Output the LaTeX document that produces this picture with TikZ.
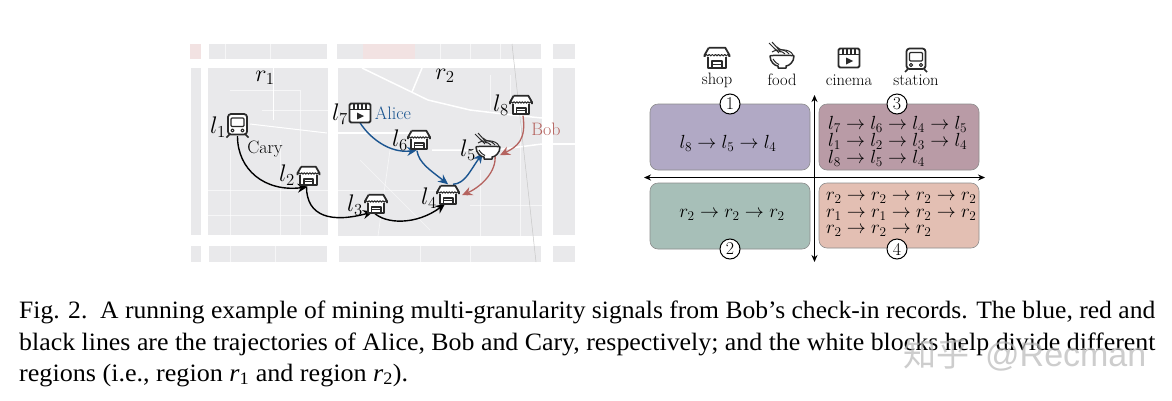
\RequirePackage{fix-cm}
\documentclass[tikz,border=0pt]{standalone}
\usepackage{fontspec}
\usepackage{graphicx}
\usetikzlibrary{arrows.meta,bending}
\newfontfamily\capfont{Liberation Serif}
\newfontfamily\cjkfont{Noto Sans CJK SC}
\newfontfamily\wmfont{Liberation Sans}
\newcommand{\fsz}[1]{\fontsize{#1}{#1}\selectfont}
\definecolor{mapblock}{HTML}{E9E9EB}
\definecolor{mappink}{HTML}{F2E2E2}
\definecolor{icondark}{HTML}{2A2A2A}
\definecolor{aliceblue2}{HTML}{1B5590}
\definecolor{bobred}{HTML}{B5635F}
\definecolor{boxA}{HTML}{B1A9C5}
\definecolor{boxB}{HTML}{A7BFB8}
\definecolor{boxC}{HTML}{B99BA6}
\definecolor{boxD}{HTML}{E3BFB3}
\tikzset{
  road/.style={draw=white,line width=1.5pt},
  lane/.style={draw=white,line width=.7pt,opacity=.6},
  iconbox/.style={inner sep=0pt,minimum width=#1,minimum height=#1,draw=none},
  iconbox/.default=21pt,
  lbl/.style={inner sep=0pt,font=\fsz{24}},
  nametext/.style={inner sep=0pt,font=\fsz{16.5}},
  mapname/.style={inner sep=0pt,font=\fsz{18}},
  trajk/.style={-{Stealth[length=10pt,width=9pt,bend]},line width=1.4pt,black},
  trajb/.style={-{Stealth[length=10pt,width=9pt,bend]},line width=1.4pt,aliceblue2},
  trajr/.style={-{Stealth[length=10pt,width=9pt,bend]},line width=1.3pt,bobred},
  card/.style={rounded corners=8pt,draw=black!45,line width=.6pt},
  seq/.style={inner sep=0pt,anchor=west,font=\fsz{19}},
  numc/.style={circle,draw=black,line width=1pt,fill=white,inner sep=0pt,minimum size=20pt,font=\fsz{18}},
  axis/.style={{Stealth[length=7pt,width=6pt]}-{Stealth[length=7pt,width=6pt]},line width=1pt},
  capline/.style={inner sep=0pt,anchor=base west,font=\capfont\fsz{25}},
  ico/.style={draw=icondark,line width=1.8pt,line join=round},
  shop/.pic={
    \fill[white] (-8,-10) -- (8,-10) -- (12,-2) -- (-12,-2) -- cycle;
    \fill[white] (-9,-2) rectangle (9,10);
    \draw[ico] (-9,-1) -- (-9,10) -- (9,10) -- (9,-1);
    \draw[ico] (-8,-10) -- (8,-10) -- (12,-3) -- (12,-1);
    \draw[ico] (-8,-10) -- (-12,-3) -- (-12,-1);
    \draw[ico,line width=1pt] (-12,-2) arc[start angle=180,end angle=360,radius=1.5]
      arc[start angle=180,end angle=360,radius=1.5] arc[start angle=180,end angle=360,radius=1.5]
      arc[start angle=180,end angle=360,radius=1.5] arc[start angle=180,end angle=360,radius=1.5]
      arc[start angle=180,end angle=360,radius=1.5] arc[start angle=180,end angle=360,radius=1.5]
      arc[start angle=180,end angle=360,radius=1.5];
    \draw[ico] (-5,10) -- (-5,3) -- (5,3) -- (5,10);
    \draw[ico,line width=1.2pt] (-5,6) -- (5,6);
  },
  station/.pic={
    \draw[ico,fill=white,rounded corners=3pt] (-9.5,-11.5) rectangle (9.5,9);
    \draw[ico,line width=1.2pt,fill=white,rounded corners=1pt] (-6.5,-7.5) rectangle (6.5,1);
    \draw[ico,line width=1.1pt] (-5,5) circle[radius=1.6];
    \draw[ico,line width=1.1pt] (5,5) circle[radius=1.6];
    \draw[ico,line width=1.5pt] (-8,9) -- (-11,12);
    \draw[ico,line width=1.5pt] (8,9) -- (11,12);
  },
  cinema/.pic={
    \draw[ico,fill=white,rounded corners=1.5pt] (-10.5,-9.5) rectangle (10.5,9.5);
    \draw[ico,line width=1.2pt] (-10.5,-3.5) -- (10.5,-3.5);
    \foreach \sx in {-6,-2,2,6}{\fill[icondark] (\sx-1.1,-9.5) rectangle (\sx+1.1,-3.5);}
    \fill[icondark] (-3,-0.5) -- (4,3) -- (-3,6.5) -- cycle;
  },
  food/.pic={
    \draw[ico,line width=1pt] (-13,-13) -- (-3,-3);
    \draw[ico,line width=1pt] (-10,-14) -- (-1,-4);
    \draw[ico,line width=1pt] (-8,-8) .. controls (-5,-3) and (0,-6) .. (3,-2);
    \draw[ico,line width=1pt] (-5,-9) .. controls (-2,-5) and (4,-7) .. (7,-2);
    \draw[ico,line width=1pt] (-10,-4) .. controls (-6,-7) and (8,-8) .. (11,-1);
    \draw[ico,line width=1.5pt,fill=white] (-12,0) .. controls (-12,-1) and (12,-1) .. (12,0)
      .. controls (12,6) and (7,10) .. (4,10) -- (4,12) -- (-4,12) -- (-4,10)
      .. controls (-7,10) and (-12,6) .. (-12,0) -- cycle;
    \draw[ico,line width=1pt] (-9,3) .. controls (-7,6) and (-5,8) .. (-3,8.5);
  },
}
\begin{document}
\begin{tikzpicture}[x=1pt,y=-1pt]
\useasboundingbox (0,0) rectangle (1172,400);
\fill[white] (0,0) rectangle (1172,400);
% ---- map blocks
\fill[mappink] (190,44) rectangle (201,59);
\fill[mapblock] (209,44) rectangle (327,59);
\fill[mapblock] (337,44) rectangle (541,59);
\fill[mappink] (363,44) rectangle (415,59);
\fill[mapblock] (553,44) rectangle (575,59);
\fill[mapblock] (191,68) rectangle (201,235);
\fill[mapblock] (208,68) rectangle (328,235);
\fill[mapblock] (338,68) rectangle (542,236);
\fill[mapblock] (553,68) rectangle (575,235);
\fill[mapblock] (191,246) rectangle (201,262);
\fill[mapblock] (209,246) rectangle (327,262);
\fill[mapblock] (339,246) rectangle (541,262);
\fill[mapblock] (553,246) rectangle (575,262);
% ---- map streets
\draw[road] (362,68) -- (428,100) -- (470,110) -- (512,115) -- (542,118);
\draw[road] (422,68) -- (412,92);
\draw[road] (338,133) -- (412,133);
\draw[road] (432,150) -- (495,150) -- (542,144);
\draw[road,line width=1pt] (273,68) -- (273,120);
\draw[road,line width=1pt] (250,124) -- (327,133);
\draw[road] (553,144) -- (575,144);
\draw[lane] (208,190) -- (328,190);
\draw[lane] (230,90) -- (300,90) -- (300,235);
\draw[lane] (262,110) -- (328,110);
\draw[lane] (208,215) -- (328,215);
\draw[lane] (280,140) -- (280,235);
\draw[lane] (230,150) -- (230,235);
\draw[lane] (360,160) -- (430,230);
\draw[lane] (390,150) -- (378,236);
\draw[lane] (338,190) -- (440,190);
\draw[lane] (480,170) -- (480,236);
\draw[lane] (470,205) -- (542,205);
\draw[lane] (520,118) -- (520,236);
\draw[lane] (490,75) -- (490,110);
\draw[lane] (510,75) -- (510,100);
\draw[lane] (225,44) -- (225,59);
\draw[lane] (270,44) -- (270,59);
\draw[lane] (440,44) -- (440,59);
\draw[lane] (470,44) -- (470,59);
\draw[lane] (500,44) -- (500,59);
\draw[lane] (230,246) -- (230,262);
\draw[lane] (275,246) -- (275,262);
\draw[lane] (420,246) -- (420,262);
\draw[lane] (470,246) -- (470,262);
\draw[black!22,line width=.5pt] (512,44) -- (536,262);
% ---- icon anchors
\node[iconbox] (l1) at (237.5,125.5) {};
\node[iconbox] (l2) at (308.5,176) {};
\node[iconbox] (l3) at (376,204) {};
\node[iconbox] (l4) at (448,195) {};
\node[iconbox] (l5) at (488,147) {};
\node[iconbox] (l6) at (419,140) {};
\node[iconbox] (l7) at (360,113) {};
\node[iconbox] (l8) at (521,105) {};
% ---- trajectories
\draw[trajk] (l1.south) .. controls +(0,35) and +(-40,8) .. ([xshift=-1pt,yshift=0pt]l2.south);
\draw[trajk] ([xshift=-2pt,yshift=0pt]l2.south) .. controls +(0,32) and +(-38,12) .. ([xshift=-3pt,yshift=3pt]l3.south);
\draw[trajk] ([xshift=-2pt,yshift=2pt]l3.south) .. controls +(12,12) and +(-25,22) .. ([xshift=-3pt,yshift=2pt]l4.south);
\draw[trajb] ([yshift=1pt]l7.south) .. controls +(10,16) and +(-24,7) .. ([xshift=-2pt,yshift=1pt]l6.south);
\draw[trajb] ([xshift=-2pt,yshift=0pt]l6.south) .. controls +(2,14) and +(-14,-12) .. ([xshift=0pt,yshift=0pt]l4.north);
\draw[trajb] ([xshift=5pt,yshift=0pt]l4.north) .. controls +(14,-1) and +(-12,14) .. ([xshift=-5pt,yshift=4.5pt]l5.south);
\draw[trajr] ([xshift=2pt]l8.south) .. controls +(4,28) and +(14,-7) .. ([xshift=12pt,yshift=2.5pt]l5.south);
\draw[trajr] ([xshift=7pt,yshift=2.5pt]l5.south) .. controls +(2,18) and +(16,-5) .. ([xshift=14pt]l4.center);
% ---- icons
\pic at (l1) {station};
\pic[scale=.92] at (l2) {shop};
\pic[scale=.92] at (l3) {shop};
\pic[scale=.92] at (l4) {shop};
\pic at (l5) {food};
\pic[scale=.92] at (l6) {shop};
\pic at (l7) {cinema};
\pic[scale=.92] at (l8) {shop};
% ---- map labels
\node[lbl] (t1) at (218,127) {$l_1$};
\node[lbl] (t2) at (287,175) {$l_2$};
\node[lbl] (t3) at (355,205) {$l_3$};
\node[lbl] (t4) at (429,198) {$l_4$};
\node[lbl] (t5) at (468,150) {$l_5$};
\node[lbl] (t6) at (400,140) {$l_6$};
\node[lbl] (t7) at (340,114) {$l_7$};
\node[lbl] (t8) at (501,105) {$l_8$};
\node[lbl] (rone) at (265,78) {$r_1$};
\node[lbl] (rtwo) at (445,76) {$r_2$};
\node[mapname,text=aliceblue2] (alice) at (393,113) {Alice};
\node[mapname,text=bobred] (bob) at (546,129) {Bob};
\node[mapname] (cary) at (265,149) {Cary};
% ---- legend
\node[iconbox] (ishop) at (717,58) {};
\node[iconbox] (ifood) at (782,56) {};
\node[iconbox] (icine) at (849,58) {};
\node[iconbox] (istat) at (916,60) {};
\pic[scale=1.03] at (ishop) {shop};
\pic at (ifood) {food};
\pic at (icine) {cinema};
\pic at (istat) {station};
\node[nametext] (nshop) at (717,80) {shop};
\node[nametext] (nfood) at (782,80) {food};
\node[nametext] (ncine) at (849,80) {cinema};
\node[nametext] (nstat) at (916,80) {station};
% ---- quadrants
\filldraw[card,fill=boxA] (650,104) rectangle (810,170);
\filldraw[card,fill=boxC] (819,104) rectangle (979,170);
\filldraw[card,fill=boxB] (650,183) rectangle (810,249);
\filldraw[card,fill=boxD] (819,183) rectangle (979,248);
\coordinate (axt) at (814.5,95);
\coordinate (axb) at (814.5,262);
\coordinate (axl) at (644,177.5);
\coordinate (axr) at (985,177.5);
\draw[axis] (axt) -- (axb);
\draw[axis] (axl) -- (axr);
\node[numc] (c1) at (730,104) {1};
\node[numc] (c3) at (897,104) {3};
\node[numc] (c2) at (730,249) {2};
\node[numc] (c4) at (897,249) {4};
\node[seq,anchor=center] (s1) at (728,143) {$l_8\to l_5\to l_4$};
\node[seq] (s3a) at (828,124) {$l_7\to l_6\to l_4\to l_5$};
\node[seq] (s3b) at (828,141) {$l_1\to l_2\to l_3\to l_4$};
\node[seq] (s3c) at (828,158) {$l_8\to l_5\to l_4$};
\node[seq,anchor=center] (s2) at (732,215) {$r_2\to r_2\to r_2$};
\node[seq] (s4a) at (826,198) {$r_2\to r_2\to r_2\to r_2$};
\node[seq] (s4b) at (826,214.5) {$r_1\to r_1\to r_2\to r_2$};
\node[seq] (s4c) at (826,231) {$r_2\to r_2\to r_2$};
% ---- caption
\node[capline] (cap1) at (19,318) {\resizebox{1136pt}{\height}{Fig. 2.\ \ A running example of mining multi-granularity signals from Bob’s check-in records. The blue, red and}};
\node[capline] (cap2) at (19,350) {\resizebox{1136pt}{\height}{black lines are the trajectories of Alice, Bob and Cary, respectively; and the white blocks help divide different}};
\node[capline] (cap3) at (19,381) {\resizebox{389pt}{\height}{regions (i.e., region {\itshape r}\textsubscript{1} and region {\itshape r}\textsubscript{2}).}};
% ---- watermark
\node[inner sep=0pt,anchor=base west,font=\cjkfont\fsz{33},text=black!28,opacity=.7] (wm1) at (903,366) {知乎};
\node[inner sep=0pt,anchor=base west,font=\wmfont\fsz{34},text=black!28,opacity=.7] (wm2) at (985,366) {@Recman};
\end{tikzpicture}
\end{document}
